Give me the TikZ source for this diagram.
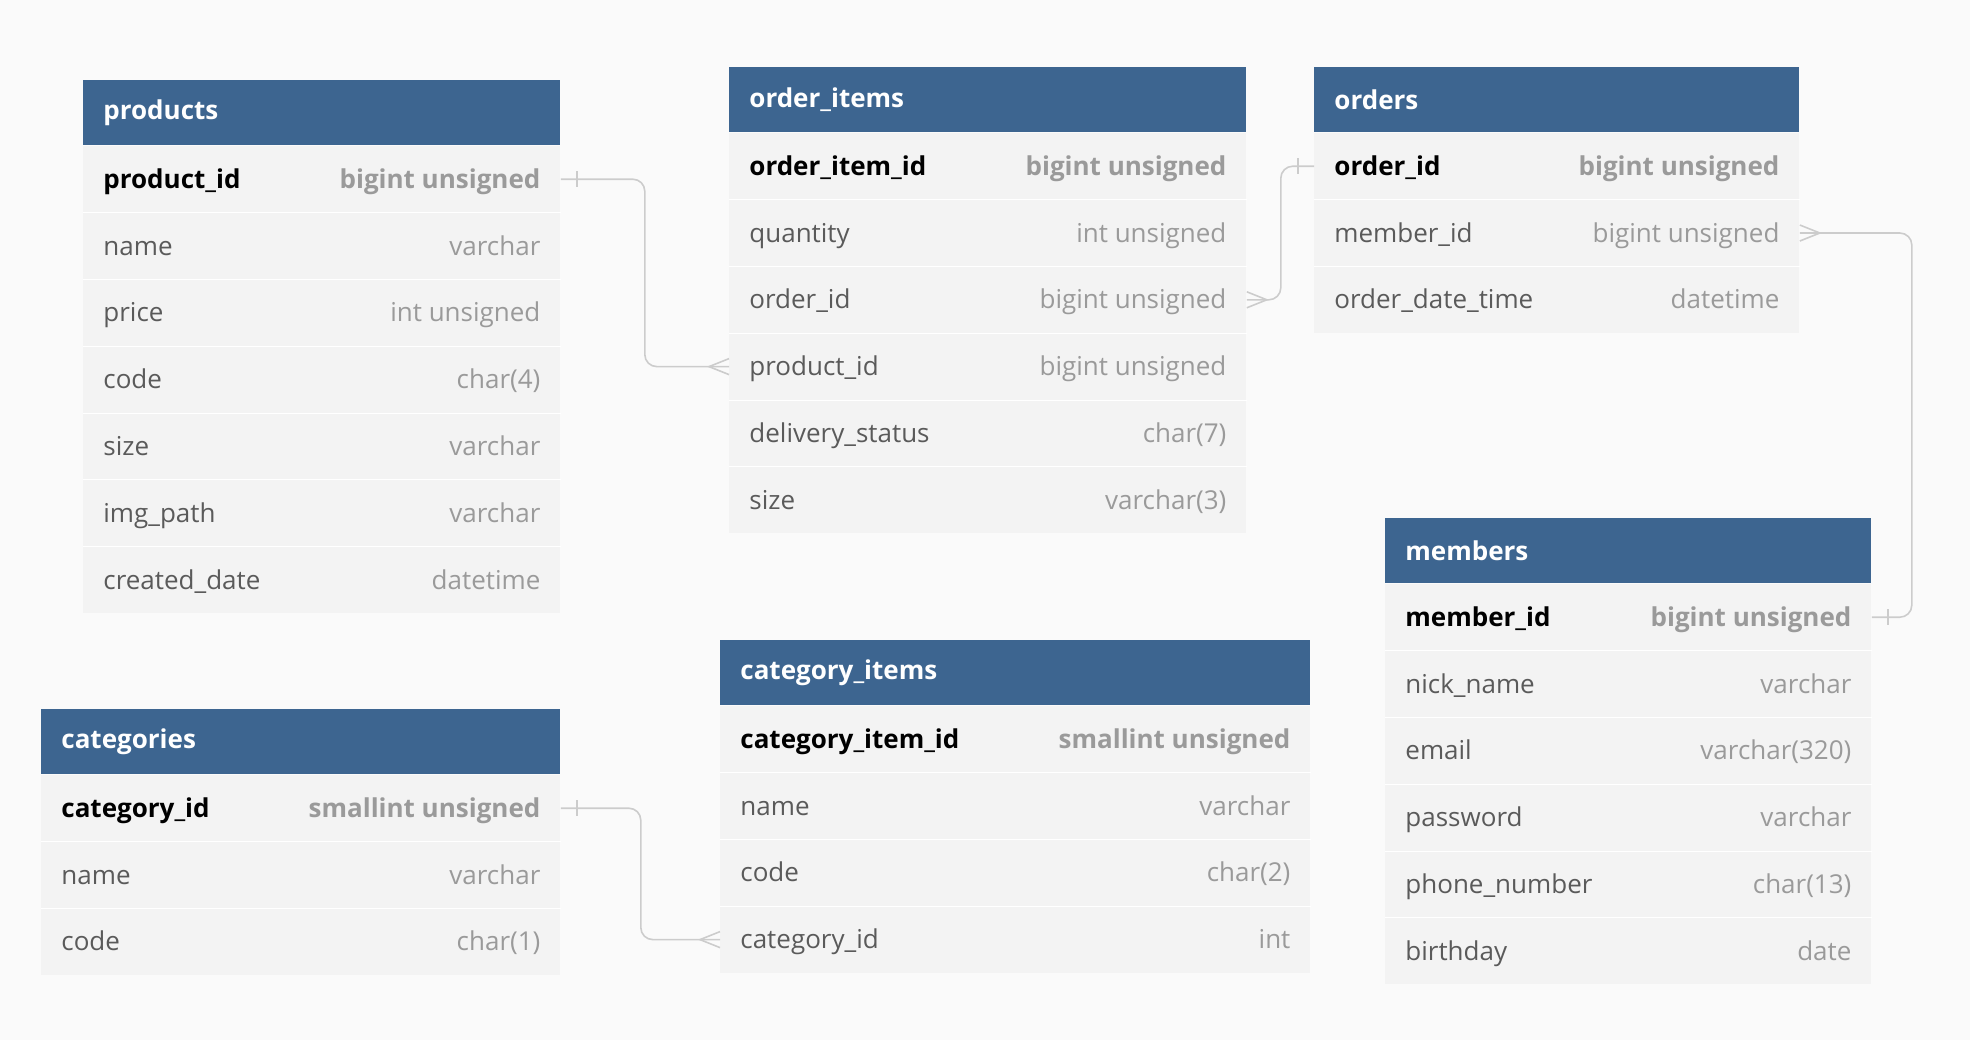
\documentclass[tikz,border=0pt]{standalone}
\usepackage{fontspec}
\setmainfont{Open Sans}
\begin{document}
\begin{tikzpicture}[x=0.5pt,y=-0.5pt,
  hdr/.style={draw=none,fill=hdrblue,inner sep=0pt,minimum height=32.5pt},
  hdrtext/.style={text=white,font=\fontsize{13}{15}\selectfont\bfseries,inner sep=0pt},
  rowbox/.style={fill=bodygray,draw=none,inner sep=0pt,minimum height=33pt},
  nametext/.style={text=nmgray,font=\fontsize{13}{15}\selectfont,inner sep=0pt},
  typetext/.style={text=tpgray,font=\fontsize{13}{15}\selectfont,inner sep=0pt},
  pkname/.style={text=black,font=\fontsize{13}{15}\selectfont\bfseries,inner sep=0pt},
  pktype/.style={text=tpgray,font=\fontsize{13}{15}\selectfont\bfseries,inner sep=0pt},
  conn/.style={draw=conngray,line width=0.8pt,rounded corners=6pt},
  mk/.style={draw=conngray,line width=0.8pt}]
\definecolor{hdrblue}{HTML}{3D6590}
\definecolor{bodygray}{HTML}{F3F3F3}
\definecolor{nmgray}{HTML}{5A5A5A}
\definecolor{tpgray}{HTML}{9A9A9A}
\definecolor{conngray}{HTML}{CCCCCC}
\definecolor{bg}{HTML}{FAFAFA}
\fill[bg] (0,0) rectangle (1970,1040);
\useasboundingbox (0,0) rectangle (1970,1040);
\newcommand\erdtab[6]{%
  \pgfmathsetmacro\tw{(#4-#2)*0.5}%
  \node[hdr,minimum width=\tw pt,anchor=north west] (#1-0) at (#2,#3) {};
  \node[hdrtext,anchor=west] (#1-t) at ([xshift=10pt]#1-0.west) {#5};
  \foreach [count=\i] \n/\t in {#6} {
    \pgfmathtruncatemacro\prev{\i-1}
    \ifnum\i=1 \def\ns{pkname}\def\ts{pktype}\else\def\ns{nametext}\def\ts{typetext}\fi
    \node[rowbox,minimum width=\tw pt,anchor=north west] (#1-\i) at (#1-\prev.south west) {};
    \ifnum\i>1 \draw[white,line width=0.5pt] (#1-\i.north west) -- (#1-\i.north east);\fi
    \node[\ns,anchor=base west] (#1-\i-n) at ([xshift=10pt,yshift=-4.5pt]#1-\i.west) {\n};
    \node[\ts,anchor=base east] (#1-\i-t) at ([xshift=-10pt,yshift=-4.5pt]#1-\i.east) {\t};
  }}
\erdtab{prod}{83}{80}{560}{products}{product\_id/bigint unsigned,name/varchar,price/int unsigned,code/char(4),size/varchar,img\_path/varchar,created\_date/datetime}
\erdtab{oi}{729}{67}{1246}{order\_items}{order\_item\_id/bigint unsigned,quantity/int unsigned,order\_id/bigint unsigned,product\_id/bigint unsigned,delivery\_status/char(7),size/varchar(3)}
\erdtab{ord}{1314}{67}{1799}{orders}{order\_id/bigint unsigned,member\_id/bigint unsigned,order\_date\_time/datetime}
\erdtab{mem}{1385}{518}{1871}{members}{member\_id/bigint unsigned,nick\_name/varchar,email/varchar(320),password/varchar,phone\_number/char(13),birthday/date}
\erdtab{ci}{720}{640}{1310}{category\_items}{category\_item\_id/smallint unsigned,name/varchar,code/char(2),category\_id/int}
\erdtab{cat}{41}{709}{560}{categories}{category\_id/smallint unsigned,name/varchar,code/char(1)}
% connectors
\draw[conn] (prod-1.east) -- ++(42pt,0) |- (oi-4.west);
\draw[conn] (oi-3.east) -- ++(17pt,0) |- (ord-1.west);
\draw[conn] (ord-2.east) -- ++(56pt,0) |- (mem-1.east);
\draw[conn] (cat-1.east) -- ++(40pt,0) |- (ci-4.west);
% one-side bars
\draw[mk] ([xshift=8pt,yshift=4pt]prod-1.east) -- ([xshift=8pt,yshift=-4pt]prod-1.east);
\draw[mk] ([xshift=-8pt,yshift=4pt]ord-1.west) -- ([xshift=-8pt,yshift=-4pt]ord-1.west);
\draw[mk] ([xshift=8pt,yshift=4pt]mem-1.east) -- ([xshift=8pt,yshift=-4pt]mem-1.east);
\draw[mk] ([xshift=8pt,yshift=4pt]cat-1.east) -- ([xshift=8pt,yshift=-4pt]cat-1.east);
% crow's feet
\draw[mk] ([yshift=4pt]oi-4.west) -- ([xshift=-10pt]oi-4.west) -- ([yshift=-4pt]oi-4.west);
\draw[mk] ([yshift=4pt]oi-3.east) -- ([xshift=10pt]oi-3.east) -- ([yshift=-4pt]oi-3.east);
\draw[mk] ([yshift=4pt]ord-2.east) -- ([xshift=10pt]ord-2.east) -- ([yshift=-4pt]ord-2.east);
\draw[mk] ([yshift=4pt]ci-4.west) -- ([xshift=-10pt]ci-4.west) -- ([yshift=-4pt]ci-4.west);
\end{tikzpicture}
\end{document}
